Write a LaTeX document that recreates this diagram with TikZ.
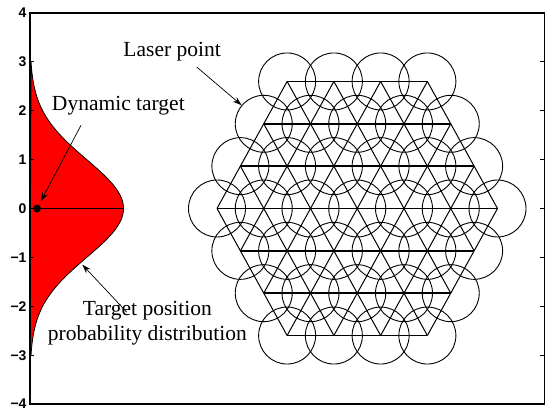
\documentclass[tikz,border=0pt]{standalone}
\usepackage{fontspec}
\setmainfont{Liberation Serif}
\newfontfamily\ticksfont{Liberation Sans}
\usetikzlibrary{arrows.meta}

\begin{document}
\begin{tikzpicture}[x=1pt,y=1pt,
    laserpoint/.style={circle, draw=black, line width=0.9pt, minimum size=57pt, inner sep=0pt},
    mesh/.style={draw=black, line width=1pt},
    rowline/.style={draw=black, line width=1.5pt},
    pointer/.style={-{Stealth[length=9pt,width=6pt]}, line width=0.7pt},
    textlabel/.style={font=\fontsize{21.5}{25}\selectfont, inner sep=0pt},
    ticklabel/.style={font=\ticksfont\bfseries\fontsize{14}{14}\selectfont, anchor=east, inner sep=0pt}]

    \useasboundingbox (0,0) rectangle (550,411);

    \begin{scope}[shift={(30,202.5)}, x=46.75pt, y=48.9pt]

        % target position distribution
        \filldraw[fill=red, draw=black, line width=0.8pt] (0,-3) -- plot[domain=-3:3, samples=121, smooth] ({2*exp(-0.5*\x*\x)}, \x) -- cycle;
        \draw[line width=1pt] (0,0) -- (2,0);
        \node[circle, fill=black, inner sep=0pt, minimum size=8pt] (target) at (0.15,0) {};

        % triangular mesh of the laser points
        \foreach \r in {-3,...,3}{
            \pgfmathsetmacro\half{(6-abs(\r))/2}
            \draw[rowline] ({7-\half},{\r*0.866}) -- ({7+\half},{\r*0.866});
        }
        \foreach \k in {-3,...,3}{
            \pgfmathsetmacro\tlo{-3-min(\k,0)}
            \pgfmathsetmacro\thi{3-max(\k,0)}
            \draw[mesh] ({7+\k+\tlo/2},{\tlo*0.866}) -- ({7+\k+\thi/2},{\thi*0.866});
            \pgfmathsetmacro\ulo{-3+max(\k,0)}
            \pgfmathsetmacro\uhi{3+min(\k,0)}
            \draw[mesh] ({7+\k-\ulo/2},{\ulo*0.866}) -- ({7+\k-\uhi/2},{\uhi*0.866});
        }

        % laser points
        \foreach \r in {-3,...,3}{
            \pgfmathtruncatemacro\n{6-abs(\r)}
            \foreach \i in {0,...,\n}{
                \node[laserpoint] (lp\r-\i) at ({7-\n/2+\i},{\r*0.866}) {};
            }
        }

        % axes
        \draw[line width=1.5pt] (0,-4) rectangle (11,4);
        \foreach \y/\t in {4/4, 3/3, 2/2, 1/1, 0/0, -1/−1, -2/−2, -3/−3, -4/−4}{
            \draw[line width=1pt] (0,\y) -- (0.09,\y);
            \draw[line width=1pt] (11,\y) -- (10.91,\y);
            \node[ticklabel] (tick\y) at (-0.07,\y) {\t};
        }

        % labels
        \node[textlabel, anchor=base] (laser) at (3.04,3.10) {Laser point};
        \node[textlabel, anchor=base] (dyn) at (1.89,2.01) {Dynamic target};
        \node[textlabel, align=center, anchor=base] (dist) at (2.51,-2.69) {Target position\\probability distribution};

        \coordinate (laser-tail) at (3.57,2.89);
        \draw[pointer] (laser-tail) -- (lp2-0.140);
        \coordinate (dyn-tail) at (1.09,1.70);
        \draw[pointer, shorten >=4pt] (dyn-tail) -- (target);
        \coordinate (dist-tail) at (2.07,-2.12);
        \coordinate (dist-tip) at (1.12,-1.15);
        \draw[pointer] (dist-tail) -- (dist-tip);

    \end{scope}

\end{tikzpicture}
\end{document}
